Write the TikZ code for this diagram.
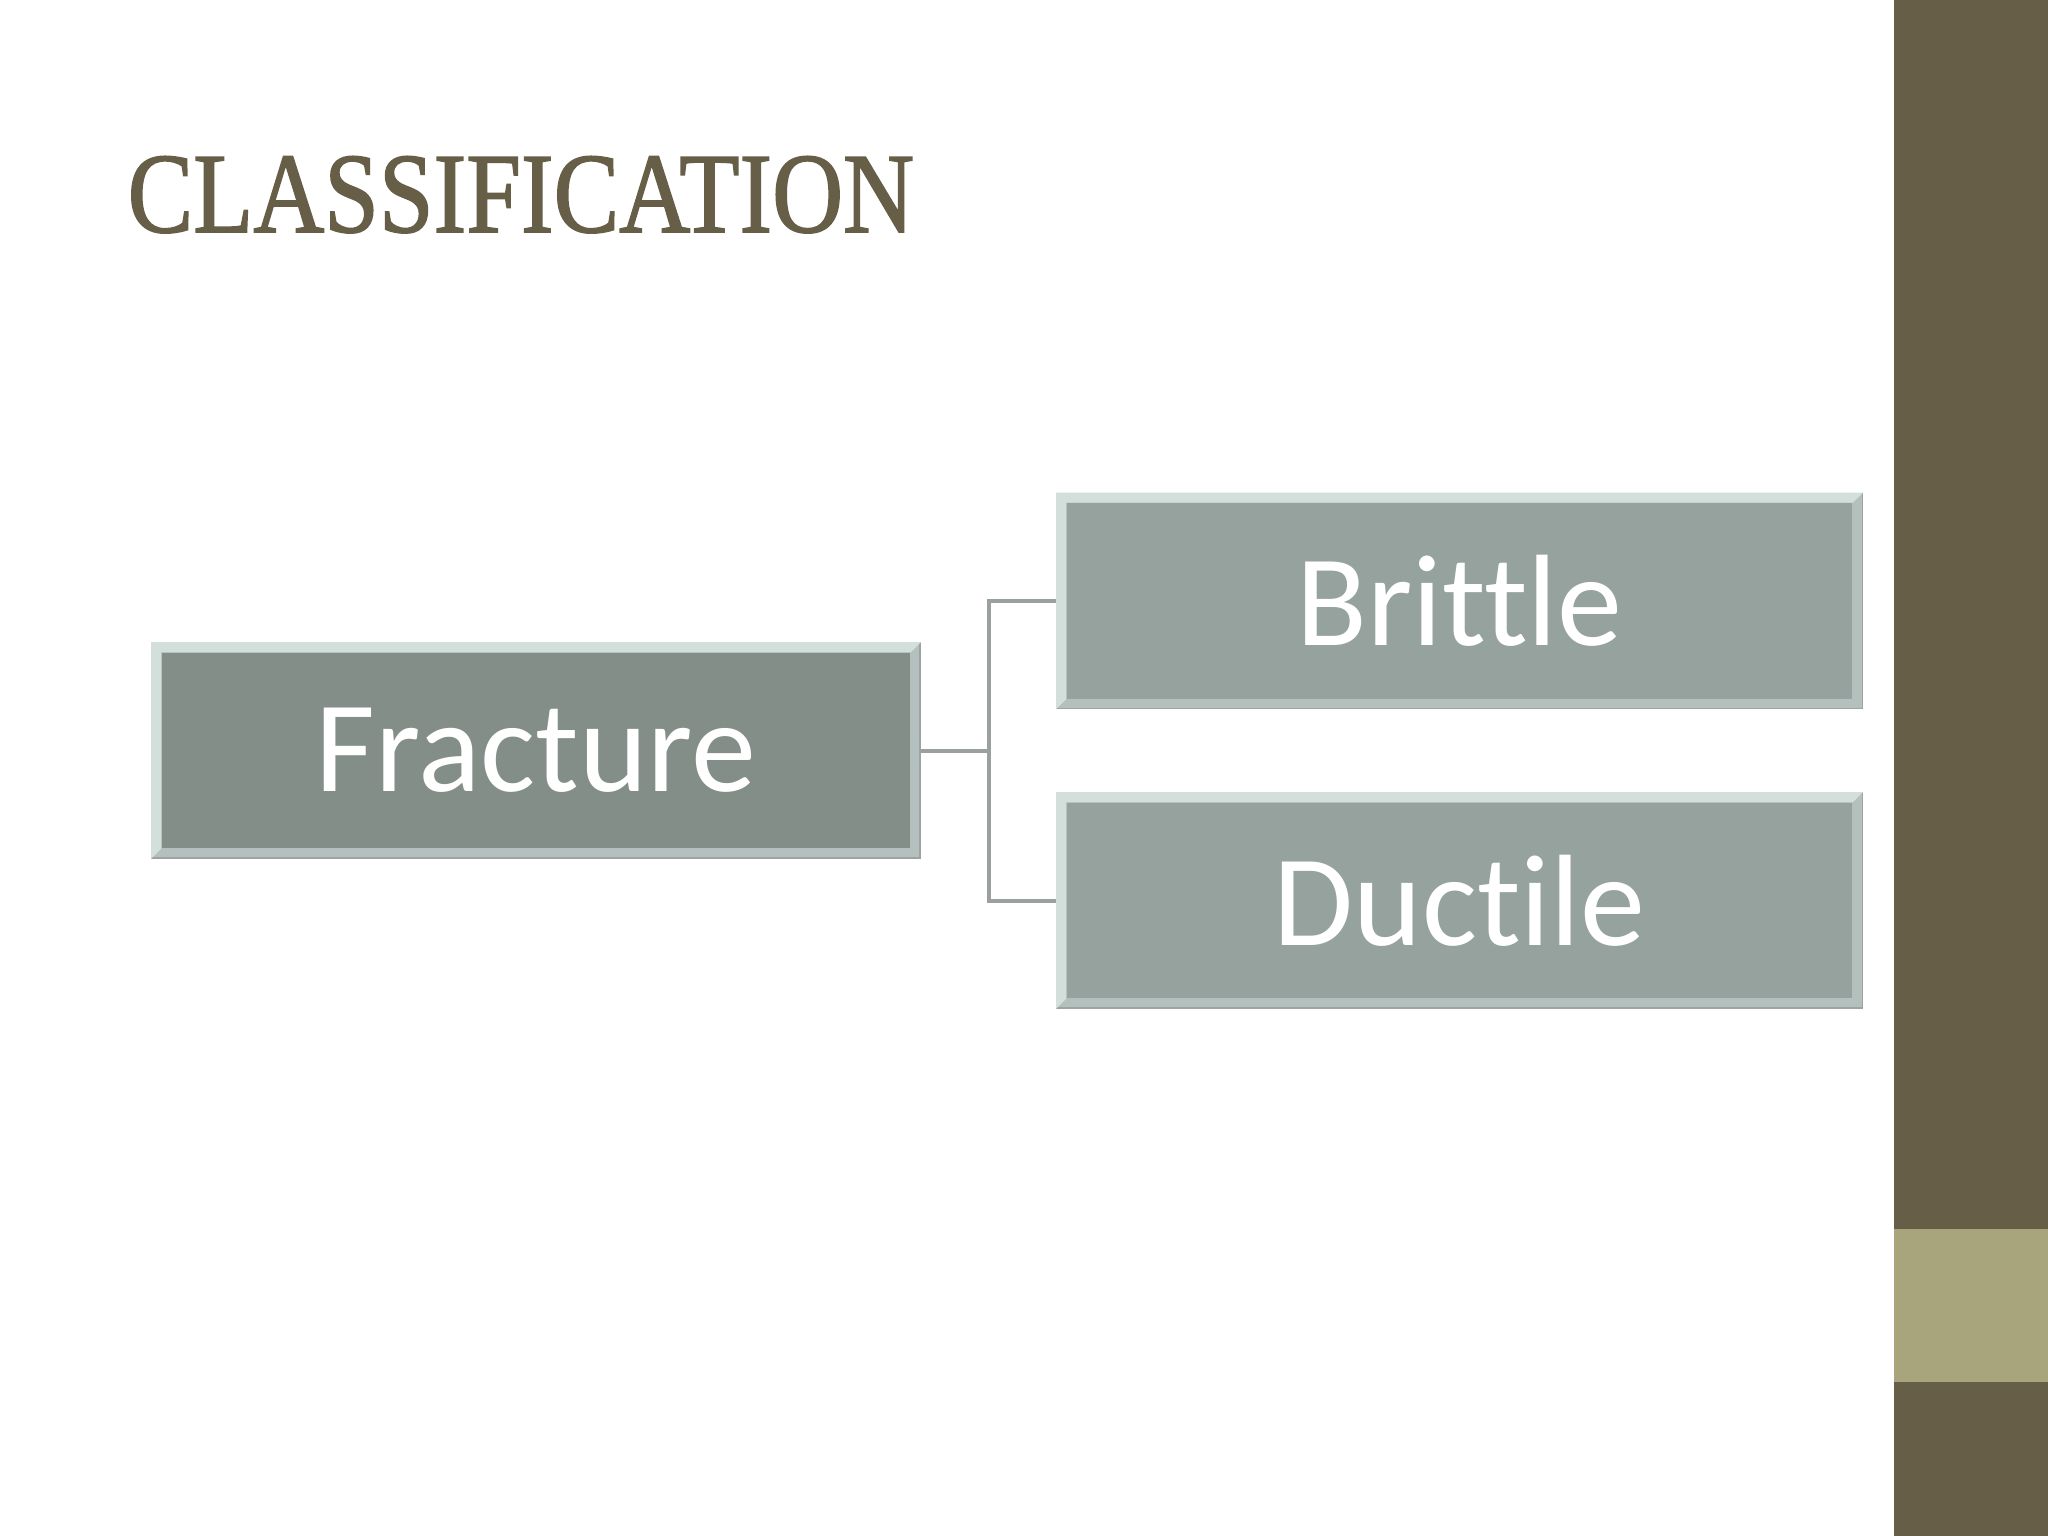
\documentclass[tikz,border=0pt]{standalone}
\usepackage{fontspec}
\usepackage{graphicx}
\setmainfont{Carlito}[Ligatures=NoCommon]
\newfontfamily\titlefont{Liberation Serif}[FakeBold=1.5]
\usetikzlibrary{calc}
\definecolor{titlecol}{RGB}{103,94,72}
\definecolor{bardark}{RGB}{103,94,72}
\definecolor{barlight}{RGB}{168,165,125}
\definecolor{facedark}{RGB}{132,142,137}
\definecolor{facelight}{RGB}{149,162,157}
\definecolor{bevtop}{RGB}{210,223,219}
\definecolor{bevbot}{RGB}{180,192,189}
\definecolor{bordercol}{RGB}{157,163,161}
\definecolor{linkcol}{RGB}{154,160,158}
\tikzset{
  outerbox/.style={rectangle, draw=bordercol, line width=0.015cm, fill=bevbot, minimum width=#1, minimum height=2.15cm, inner sep=0pt},
  innerbox/.style={rectangle, fill=#1, minimum width=0, minimum height=1.95cm, inner sep=0pt, text=white, font=\fontsize{37pt}{44pt}\selectfont},
  link/.style={draw=linkcol, line width=0.04cm},
}
\newcommand{\bevelbox}[1]{%
  \fill[bevtop] (#1.north west) -- (#1.north east) -- ([shift={(-10,10)}]#1.north east) -- ([shift={(10,10)}]#1.north west) -- ([shift={(10,-10)}]#1.south west) -- (#1.south west) -- cycle;
}
\begin{document}
\begin{tikzpicture}[x=0.01cm,y=-0.01cm]
\useasboundingbox (0,0) rectangle (2048,1536);
\fill[white] (0,0) rectangle (2048,1536);
% side bar
\fill[bardark] (1894,0) rectangle (2048,1229);
\fill[barlight] (1894,1229) rectangle (2048,1382);
\fill[bardark] (1894,1382) rectangle (2048,1536);
% title
\node[anchor=base west, inner sep=0pt, text=titlecol] (title) at (127,232)
  {\scalebox{0.86}[1]{\titlefont\fontsize{32.5pt}{36pt}\selectfont CLASSIFICATION}};
% boxes
\node[outerbox=7.68cm] (frac) at (536,750.5) {};
\bevelbox{frac}
\node[innerbox=facedark, minimum width=7.48cm] (fracT) at (frac.center) {Fracture};
\node[outerbox=8.05cm] (brit) at (1459.5,601) {};
\bevelbox{brit}
\node[innerbox=facelight, minimum width=7.85cm] (britT) at (brit.center) {Brittle};
\node[outerbox=8.05cm] (duct) at (1459.5,900.5) {};
\bevelbox{duct}
\node[innerbox=facelight, minimum width=7.85cm] (ductT) at (duct.center) {Ductile};
% connectors
\coordinate (j) at ([xshift=0.68cm]frac.east);
\draw[link] (frac.east) -- (j);
\draw[link] (j) |- (brit.west);
\draw[link] (j) |- (duct.west);
\end{tikzpicture}
\end{document}
